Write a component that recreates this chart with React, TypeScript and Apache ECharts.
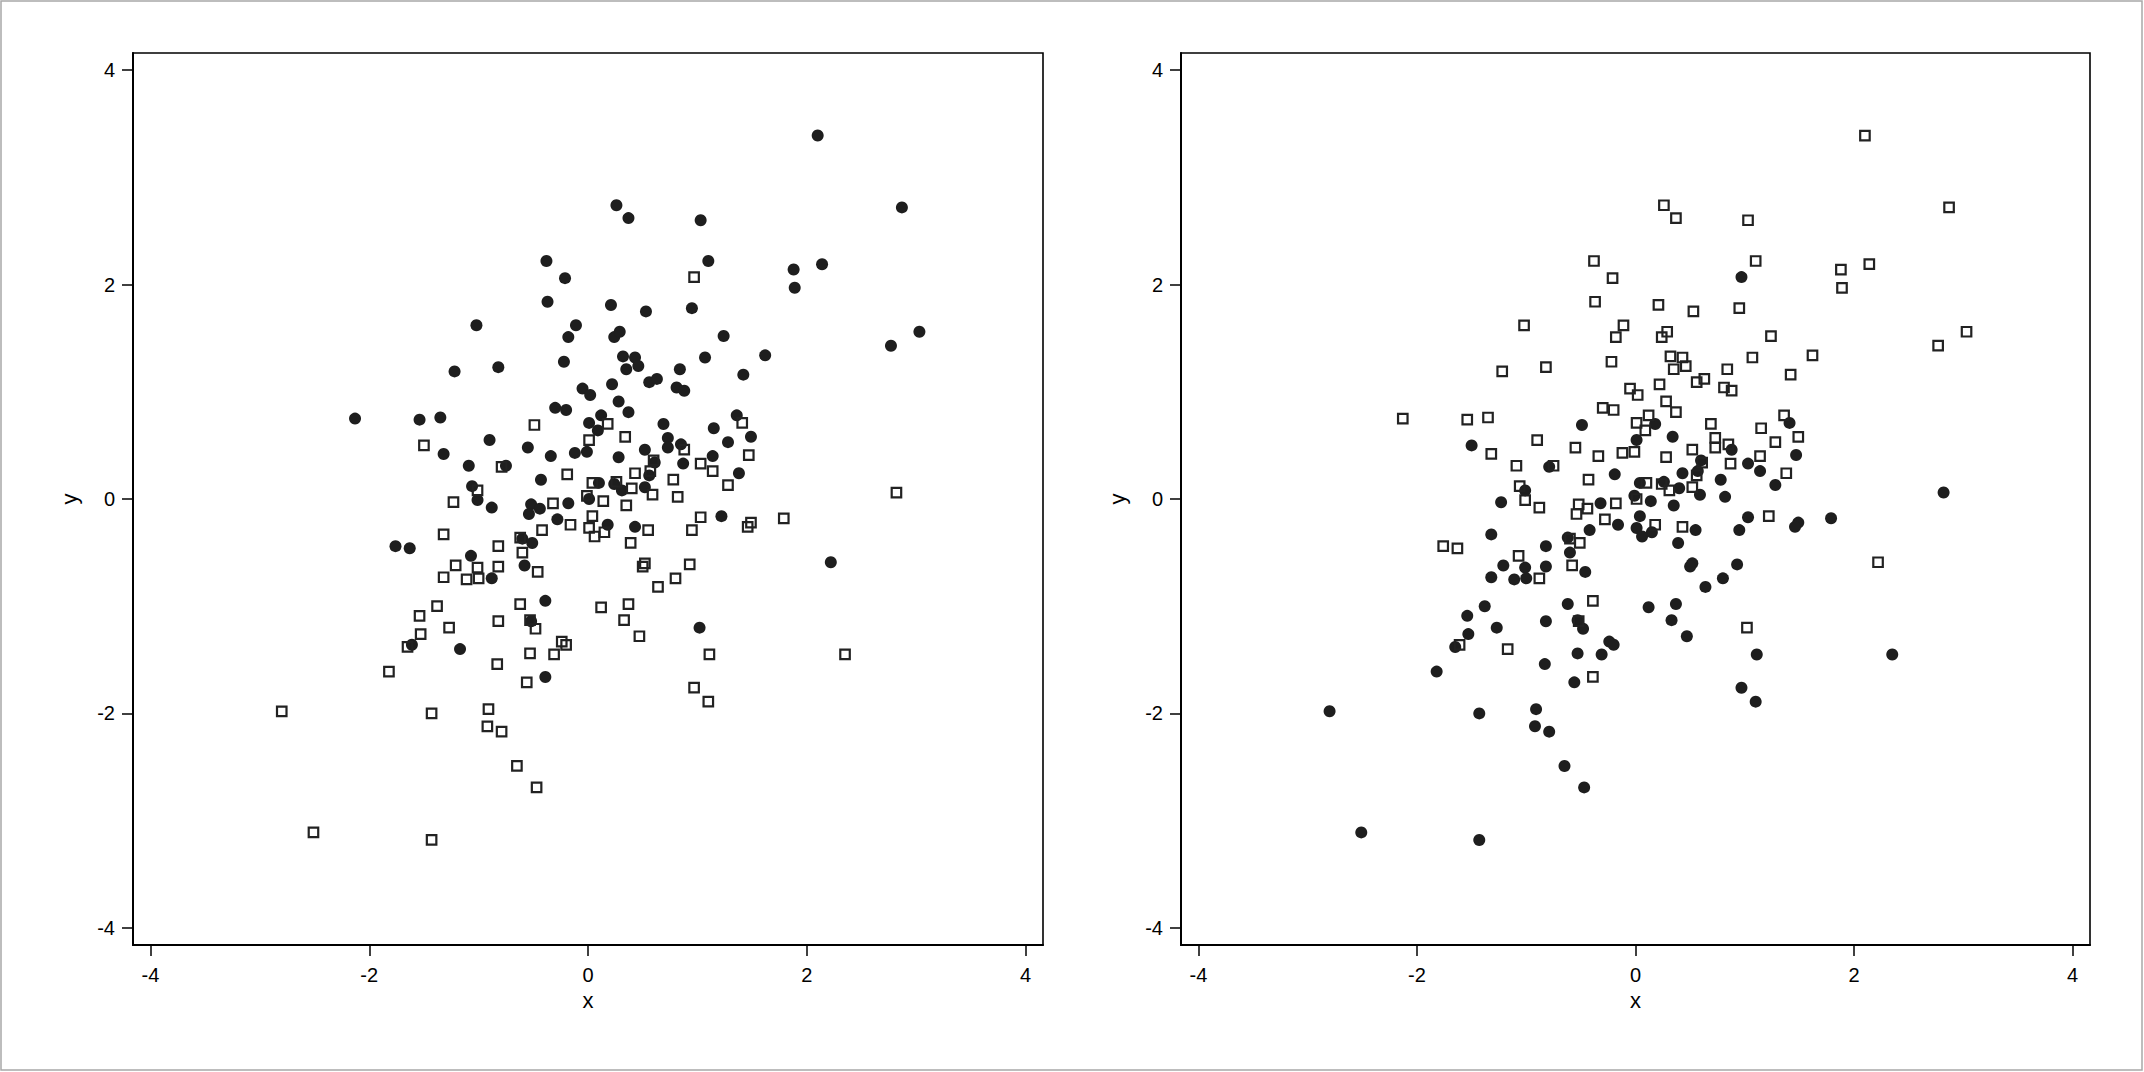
import React, { useEffect, useRef } from "react";
import * as echarts from "echarts";

const TICKS = [-4, -2, 0, 2, 4];

// Group A: filled circles in the left panel, hollow squares in the right panel
const AX = [
  2.10, 0.26, 0.37, 1.03, 2.87, -0.38, 1.10, -0.21, -0.37, 0.21,
  0.53, 0.95, -0.11, -0.18, 0.24, 0.29, 0.32, 0.43, 1.07, -0.22,
  1.88, 2.14, 1.89, 1.24, 1.62, 2.77, 3.03, -1.02, -1.22, -2.13,
  -1.54, -1.35, -0.90, -1.32, -1.09, -1.06, -1.01, -0.88, -1.76, -1.63,
  -1.07, -0.88, -0.82, 0.35, 0.46, 0.84, 0.22, 0.56, 0.63, 0.81,
  0.88, -0.05, 0.02, 0.28, 0.37, -0.30, -0.20, 0.01, 0.12, 0.09,
  0.69, 1.15, -0.55, -0.34, -0.12, -0.01, 0.28, 0.52, 0.73, 0.73,
  0.85, 0.61, 0.87, 1.14, -0.75, 0.56, -0.43, 0.10, 0.24, 0.31,
  0.52, 0.01, -0.18, -0.52, -0.44, -0.54, -0.28, 0.18, 0.43, -0.60,
  -0.51, -0.58, -0.39, 1.42, 1.36, 1.49, 1.28, 1.38, 1.22, 2.22,
  -1.61, -1.17, -0.52, 1.02, -0.39,
];
const AY = [
  3.39, 2.74, 2.62, 2.60, 2.72, 2.22, 2.22, 2.06, 1.84, 1.81,
  1.75, 1.78, 1.62, 1.51, 1.51, 1.56, 1.33, 1.32, 1.32, 1.28,
  2.14, 2.19, 1.97, 1.52, 1.34, 1.43, 1.56, 1.62, 1.19, 0.75,
  0.74, 0.76, 0.55, 0.42, 0.31, 0.12, -0.01, -0.08, -0.44, -0.46,
  -0.53, -0.74, 1.23, 1.21, 1.24, 1.21, 1.07, 1.09, 1.12, 1.04,
  1.01, 1.03, 0.97, 0.91, 0.81, 0.85, 0.83, 0.71, 0.78, 0.64,
  0.70, 0.66, 0.48, 0.40, 0.43, 0.44, 0.39, 0.46, 0.57, 0.48,
  0.51, 0.34, 0.33, 0.40, 0.31, 0.22, 0.18, 0.15, 0.14, 0.08,
  0.11, 0.00, -0.04, -0.05, -0.09, -0.14, -0.19, -0.24, -0.26, -0.37,
  -0.41, -0.62, -0.95, 1.16, 0.78, 0.58, 0.53, 0.24, -0.16, -0.59,
  -1.36, -1.40, -1.14, -1.20, -1.66,
];

// Group B: hollow squares in the left panel, filled circles in the right panel
const BX = [
  0.97, -1.50, -1.01, -1.23, -1.32, -1.21, -1.32, -1.11, -1.01, -1.00,
  -1.38, -0.49, 0.18, 0.01, 0.34, 0.88, 0.60, 1.03, 1.14, -0.79,
  -0.19, 0.43, 0.57, 0.78, 0.04, 0.26, 0.40, 0.59, 0.82, -0.01,
  0.14, 0.35, -0.32, -0.16, 0.04, 0.01, 0.15, 0.06, 0.55, 0.39,
  1.03, 0.95, -0.42, -0.62, -0.82, -0.60, -0.82, -0.46, 0.52, 0.50,
  0.93, 0.80, 0.64, -0.62, 0.12, 0.37, 1.41, 1.47, 1.28, 2.82,
  1.79, 1.49, 1.46, -1.54, -1.27, -1.53, -1.65, -1.82, -2.80, -1.43,
  -0.91, -0.92, -2.51, -1.43, -0.82, -0.53, -0.48, 0.33, 0.47, -0.24,
  -0.20, -0.53, -0.31, -0.83, -0.56, 1.11, 0.97, 1.10, -0.79, -0.65,
  -0.47, 2.35,
];
const BY = [
  2.07, 0.50, 0.08, -0.03, -0.33, -0.62, -0.73, -0.75, -0.64, -0.74,
  -1.00, 0.69, 0.70, 0.55, 0.58, 0.46, 0.36, 0.33, 0.26, 0.30,
  0.23, 0.24, 0.26, 0.18, 0.15, 0.16, 0.10, 0.04, 0.02, 0.03,
  -0.02, -0.06, -0.04, -0.24, -0.16, -0.27, -0.31, -0.35, -0.29, -0.41,
  -0.17, -0.29, -0.29, -0.36, -0.44, -0.50, -0.63, -0.68, -0.60, -0.63,
  -0.61, -0.74, -0.82, -0.98, -1.01, -0.98, 0.71, 0.41, 0.13, 0.06,
  -0.18, -0.22, -0.26, -1.09, -1.20, -1.26, -1.38, -1.61, -1.98, -2.00,
  -1.96, -2.12, -3.11, -3.18, -1.14, -1.13, -1.21, -1.13, -1.28, -1.33,
  -1.36, -1.44, -1.45, -1.54, -1.71, -1.45, -1.76, -1.89, -2.17, -2.49,
  -2.69, -1.45,
];

const FONT = "Liberation Sans";

export default function App() {
  const ref = useRef<HTMLDivElement>(null);

  useEffect(() => {
    document.body.style.margin = "0";
    const chart = echarts.init(ref.current as HTMLDivElement, null, { renderer: "svg" });
    const a = AX.map((x, i) => [x, AY[i]]);
    const b = BX.map((x, i) => [x, BY[i]]);

    const common = (gi: number, name: string, gap: number, margin: number) => ({
      type: "value",
      gridIndex: gi,
      min: -4.16,
      max: 4.16,
      name,
      nameLocation: "middle",
      nameGap: gap,
      nameTextStyle: { fontFamily: FONT, fontSize: 22, color: "#000" },
      axisLine: { show: true, onZero: false, lineStyle: { color: "#000", width: 2 } },
      axisTick: { show: true, length: 11, customValues: TICKS, lineStyle: { color: "#000", width: 1.5 } },
      axisLabel: {
        customValues: TICKS,
        margin,
        fontFamily: FONT,
        fontSize: 20,
        color: "#000",
      },
      splitLine: { show: false },
    });

    const circle = (data: number[][], xi: number) => ({
      type: "scatter",
      xAxisIndex: xi,
      yAxisIndex: xi,
      data,
      symbol: "circle",
      symbolSize: 12,
      itemStyle: { color: "#1e1e1e", opacity: 1 },
      silent: true,
    });
    const square = (data: number[][], xi: number) => ({
      type: "scatter",
      xAxisIndex: xi,
      yAxisIndex: xi,
      data,
      symbol: "rect",
      symbolSize: 9.5,
      itemStyle: { color: "rgba(0,0,0,0)", borderColor: "#222", borderWidth: 2.2, opacity: 1 },
      silent: true,
    });

    chart.setOption({
      animation: false,
      backgroundColor: "#fff",
      grid: [
        { left: 133, top: 53, width: 910, height: 892, show: true, borderColor: "#000", borderWidth: 1.6, backgroundColor: "transparent" },
        { left: 1181, top: 53, width: 909, height: 892, show: true, borderColor: "#000", borderWidth: 1.6, backgroundColor: "transparent" },
      ],
      xAxis: [common(0, "x", 40, 20), common(1, "x", 40, 20)],
      yAxis: [common(0, "y", 53, 18), common(1, "y", 53, 18)],
      series: [circle(a, 0), square(b, 0), circle(b, 1), square(a, 1)],
      graphic: [
        {
          type: "rect",
          shape: { x: 1, y: 1, width: 2141, height: 1069 },
          style: { fill: "none", stroke: "#a8a8a8", lineWidth: 1.5 },
          silent: true,
        },
      ],
    });

    return () => chart.dispose();
  }, []);

  return <div ref={ref} style={{ position: "absolute", left: 0, top: 0, width: 2144, height: 1072 }} />;
}
